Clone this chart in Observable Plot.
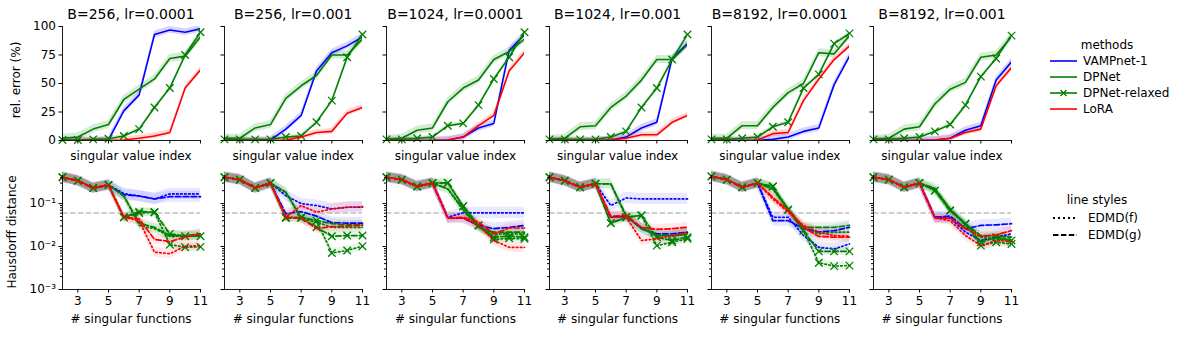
<!DOCTYPE html>
<html><head><meta charset="utf-8">
<script src="https://cdn.jsdelivr.net/npm/d3@7"></script>
<script src="https://cdn.jsdelivr.net/npm/@observablehq/plot@0.6"></script>
<style>
body{margin:0;background:#fff;font-family:"DejaVu Sans",sans-serif;}
#root{position:relative;width:1189px;height:351px;overflow:hidden;background:#fff;}
.t{position:absolute;transform:translate(-50%,-50%);white-space:nowrap;color:#000;font-family:"DejaVu Sans",sans-serif;}
</style></head><body><div id="root"></div>
<script>
// ---------------- data ----------------
const configs = ["B=256, lr=0.0001","B=256, lr=0.001","B=1024, lr=0.0001","B=1024, lr=0.001","B=8192, lr=0.0001","B=8192, lr=0.001"];
const methods = ["VAMPnet-1","DPNet","DPNet-relaxed","LoRA"];
const methodColors = ["#0000ff","#008000","#008000","#ff0000"];
const lineStyles = ["EDMD(f)","EDMD(g)"];
const xTop = [1,2,3,4,5,6,7,8,9,10];
const xTopTicks = [2,4,6,8,10];
const yTopTicks = [0,25,50,75,100];
const xBottom = [2,3,4,5,6,7,8,9,10,11];
const xBottomTicks = [3,5,7,9,11];
const yBottomTicks = [0.001,0.01,0.1];
const yBottomTickLabels = ["10\u207B\u00B3","10\u207B\u00B2","10\u207B\u00B9"];
const threshold = 0.06;

// relative error (%) per panel
const errVAMP = [
 [0,0,0,0.5,26,40,93,97,95,98],
 [0,0,0,0.5,10,22,61,77,83,91],
 [0,0,0,0,0.5,3,11,15,79,93],
 [0,0,0,0,0.5,3,11,16,72,85],
 [0,0,0,0,1,3,8,11,49,74],
 [0,0,0,0,0.5,2,9,13,53,69]];
const errDPNet = [
 [2,3,10,14,36,45,54,72,74,91],
 [2,2,11,14,37,48,57,75,75,89],
 [1,2,9,11,34,46,53,71,78,89],
 [1,2,12,13,29,39,53,71,71,84],
 [2,2,13,13,29,42,50,77,76,92],
 [1,2,10,12,32,45,51,73,75,91]];
const errRelaxed = [
 [0.5,0.5,1,1.5,4,10,29,46,75,95],
 [1,1,1,1,3,4,16,35,73,93],
 [1,1,2,3,13,15,31,54,73,95],
 [1,1,1,1,3,8,29,46,71,93],
 [1,1,2,3,12,16,46,58,85,94],
 [1,1,2,3,8,14,31,56,72,92]];
const errLoRA = [
 [0,0,0,0,0.5,2,4,7,46,62],
 [0,0,0,0,0.3,3,7,8,24,29],
 [0,0,0,0,0.5,3,13,22,61,77],
 [0,0,0,0,0.5,2,5,5,16,22],
 [0,0,0,0.5,6,7,35,54,71,83],
 [0,0,0,0,0.5,2,7,10,48,64]];
const errSpread = [3, 3.5, 1.5, 2.5];

// Hausdorff distance per panel
const hdVAMP_f = [
 [0.41,0.34,0.23,0.27,0.17,0.15,0.128,0.168,0.168,0.168],
 [0.41,0.36,0.23,0.30,0.153,0.10,0.09,0.075,0.082,0.082],
 [0.41,0.36,0.25,0.30,0.048,0.061,0.061,0.061,0.061,0.061],
 [0.41,0.34,0.24,0.29,0.09,0.135,0.128,0.128,0.128,0.128],
 [0.43,0.36,0.24,0.30,0.048,0.048,0.018,0.0096,0.0088,0.0115],
 [0.41,0.36,0.24,0.30,0.048,0.046,0.0216,0.0138,0.0165,0.0197]];
const hdVAMP_g = [
 [0.41,0.34,0.23,0.27,0.16,0.15,0.128,0.145,0.145,0.145],
 [0.41,0.36,0.23,0.30,0.058,0.065,0.051,0.036,0.035,0.035],
 [0.41,0.36,0.25,0.30,0.046,0.046,0.031,0.026,0.028,0.031],
 [0.41,0.34,0.24,0.29,0.048,0.051,0.026,0.0197,0.0197,0.0216],
 [0.43,0.36,0.24,0.30,0.040,0.040,0.026,0.0216,0.0235,0.028],
 [0.41,0.36,0.24,0.30,0.048,0.051,0.026,0.031,0.032,0.034]];
const hdDPNet_f = [
 [0.41,0.34,0.23,0.27,0.15,0.031,0.026,0.0174,0.0174,0.018],
 [0.41,0.36,0.23,0.30,0.184,0.044,0.037,0.028,0.028,0.028],
 [0.41,0.36,0.25,0.30,0.219,0.069,0.028,0.0197,0.0197,0.0197],
 [0.41,0.34,0.24,0.29,0.287,0.048,0.028,0.018,0.0174,0.0197],
 [0.43,0.36,0.24,0.30,0.219,0.072,0.026,0.0197,0.0216,0.0216],
 [0.41,0.36,0.24,0.30,0.219,0.072,0.031,0.0165,0.0151,0.0138]];
const hdDPNet_g = [
 [0.41,0.34,0.23,0.27,0.15,0.035,0.028,0.018,0.018,0.0197],
 [0.41,0.36,0.23,0.30,0.184,0.048,0.040,0.034,0.032,0.032],
 [0.41,0.36,0.25,0.30,0.219,0.075,0.028,0.0216,0.0216,0.0216],
 [0.41,0.34,0.24,0.29,0.287,0.053,0.026,0.018,0.018,0.0197],
 [0.43,0.36,0.24,0.30,0.219,0.075,0.028,0.028,0.028,0.031],
 [0.41,0.36,0.24,0.30,0.227,0.075,0.034,0.018,0.0174,0.0165]];
const hdRelaxed_f = [
 [0.41,0.34,0.23,0.27,0.048,0.06,0.063,0.0111,0.0096,0.0098],
 [0.41,0.36,0.23,0.30,0.048,0.048,0.040,0.0071,0.0081,0.0102],
 [0.41,0.36,0.25,0.30,0.303,0.087,0.031,0.0146,0.0156,0.0151],
 [0.41,0.34,0.24,0.29,0.035,0.048,0.053,0.0105,0.0126,0.0151],
 [0.43,0.36,0.24,0.30,0.25,0.072,0.0235,0.0042,0.0035,0.0036],
 [0.41,0.36,0.24,0.30,0.20,0.069,0.034,0.0105,0.0126,0.0115]];
const hdRelaxed_g = [
 [0.41,0.34,0.23,0.27,0.048,0.065,0.063,0.0197,0.0174,0.0174],
 [0.41,0.36,0.23,0.30,0.046,0.046,0.028,0.0174,0.018,0.018],
 [0.41,0.36,0.25,0.30,0.303,0.087,0.031,0.0165,0.0174,0.0165],
 [0.41,0.34,0.24,0.29,0.035,0.048,0.053,0.0165,0.0138,0.0165],
 [0.43,0.36,0.24,0.30,0.25,0.072,0.0235,0.0077,0.0077,0.0077],
 [0.41,0.36,0.24,0.30,0.20,0.069,0.034,0.0126,0.0165,0.0138]];
const hdLoRA_f = [
 [0.41,0.34,0.23,0.27,0.048,0.040,0.0074,0.0068,0.0102,0.0105],
 [0.41,0.36,0.23,0.30,0.048,0.09,0.063,0.075,0.082,0.085],
 [0.41,0.36,0.25,0.30,0.046,0.046,0.031,0.0138,0.0096,0.0096],
 [0.41,0.34,0.24,0.29,0.048,0.048,0.0138,0.0151,0.018,0.0216],
 [0.43,0.36,0.24,0.30,0.128,0.063,0.031,0.0216,0.018,0.0174],
 [0.41,0.36,0.24,0.30,0.046,0.040,0.018,0.0105,0.0138,0.0131]];
const hdLoRA_g = [
 [0.41,0.34,0.23,0.27,0.048,0.044,0.0146,0.0131,0.0165,0.0197],
 [0.41,0.36,0.23,0.30,0.048,0.046,0.026,0.029,0.030,0.031],
 [0.41,0.36,0.25,0.30,0.046,0.048,0.037,0.0197,0.027,0.027],
 [0.41,0.34,0.24,0.29,0.051,0.053,0.028,0.025,0.026,0.028],
 [0.43,0.36,0.24,0.30,0.14,0.069,0.028,0.0171,0.0165,0.0165],
 [0.41,0.36,0.24,0.30,0.046,0.046,0.026,0.0171,0.0187,0.0235]];
const hdBandFactor = [1.35, 1.3, 1.25, 1.3];

// ---------------- layout ----------------
const root = document.getElementById("root");
const PW = 138, PH = 114;
const ML = 45, MR = 12, MT = 8, MB = 24;
const TOP_Y = 26, BOT_Y = 175;
const panelLeft = i => 62 + 162.2 * i;
const errSeries = [errVAMP, errDPNet, errRelaxed, errLoRA];
const hdSeries = [[hdVAMP_f, hdVAMP_g],[hdDPNet_f, hdDPNet_g],[hdRelaxed_f, hdRelaxed_g],[hdLoRA_f, hdLoRA_g]];
const DOT = "1.5,2.5", DASH = "5.5,2.4";
const baseStyle = {background:"transparent", fontSize:"12px", fontFamily:"DejaVu Sans, sans-serif", color:"#000", overflow:"visible"};

function place(node, left, top){
  node.style.position = "absolute";
  node.style.left = left + "px";
  node.style.top = top + "px";
  root.appendChild(node);
}
function label(str, x, y, size, rotate){
  const d = document.createElement("div");
  d.className = "t";
  d.textContent = str;
  d.style.left = x + "px"; d.style.top = y + "px"; d.style.fontSize = size + "px";
  if (rotate) d.style.transform = "translate(-50%,-50%) rotate(-90deg)";
  root.appendChild(d);
}

function topPanel(p){
  const marks = [];
  methods.forEach((m, mi) => {
    const rows = errSeries[mi][p].map((v,k) => ({x: xTop[k], v, lo: v - errSpread[mi], hi: v + errSpread[mi]}));
    marks.push(Plot.areaY(rows, {x:"x", y1:"lo", y2:"hi", fill: methodColors[mi], fillOpacity: 0.16, clip: true}));
  });
  methods.forEach((m, mi) => {
    const rows = errSeries[mi][p].map((v,k) => ({x: xTop[k], v}));
    marks.push(Plot.lineY(rows, {x:"x", y:"v", stroke: methodColors[mi], strokeWidth: 1.6, clip: true}));
    if (m === "DPNet-relaxed") marks.push(Plot.dot(rows, {x:"x", y:"v", symbol:"times", r: 3.5, stroke: methodColors[mi], strokeWidth: 1.3}));
  });
  marks.push(Plot.ruleX([xTop[0]], {stroke:"#000", strokeWidth: 0.9}));
  marks.push(Plot.ruleY([0], {stroke:"#000", strokeWidth: 0.9}));
  marks.push(Plot.axisX({ticks: xTopTicks, tickSize: 3.5, tickFormat: () => "", label: null}));
  marks.push(Plot.axisY({ticks: yTopTicks, tickSize: 3.5, tickPadding: 3, tickFormat: p === 0 ? (d => String(d)) : (() => ""), label: null}));
  return Plot.plot({
    width: PW + ML + MR, height: PH + MT + MB,
    marginLeft: ML, marginRight: MR, marginTop: MT, marginBottom: MB,
    x: {domain: [xTop[0], xTop[xTop.length-1]]},
    y: {domain: [0, 100]},
    style: baseStyle,
    marks
  });
}

function bottomPanel(p){
  const marks = [];
  methods.forEach((m, mi) => {
    hdSeries[mi].forEach(arr => {
      const rows = arr[p].map((v,k) => ({x: xBottom[k], lo: v / hdBandFactor[mi], hi: v * hdBandFactor[mi]}));
      marks.push(Plot.areaY(rows, {x:"x", y1:"lo", y2:"hi", fill: methodColors[mi], fillOpacity: 0.09}));
    });
  });
  marks.push(Plot.ruleY([threshold], {stroke:"#c0c0c0", strokeWidth: 1.5, strokeDasharray: DASH}));
  methods.forEach((m, mi) => {
    hdSeries[mi].forEach((arr, si) => {
      const rows = arr[p].map((v,k) => ({x: xBottom[k], v}));
      marks.push(Plot.lineY(rows, {x:"x", y:"v", stroke: methodColors[mi], strokeWidth: 1.7, strokeDasharray: si === 0 ? DOT : DASH}));
      if (m === "DPNet-relaxed") marks.push(Plot.dot(rows, {x:"x", y:"v", symbol:"times", r: 3.5, stroke: methodColors[mi], strokeWidth: 1.3}));
    });
  });
  const minor = [];
  yBottomTicks.forEach(t => { for (let k = 2; k <= 9; k++) if (t*k <= 0.45) minor.push(t*k); });
  marks.push(Plot.ruleX([xBottom[0]], {stroke:"#000", strokeWidth: 0.9}));
  marks.push(Plot.ruleY([0.001], {stroke:"#000", strokeWidth: 0.9}));
  marks.push(Plot.axisX({ticks: xBottomTicks, tickSize: 3.5, tickPadding: 3, tickFormat: d => String(d), label: null}));
  marks.push(Plot.axisY({ticks: minor, tickSize: 2, tickFormat: () => "", label: null}));
  marks.push(Plot.axisY({ticks: yBottomTicks, tickSize: 3.5, tickPadding: 3,
    tickFormat: p === 0 ? (d => yBottomTickLabels[yBottomTicks.indexOf(d)]) : (() => ""), label: null}));
  return Plot.plot({
    width: PW + ML + MR, height: PH + MT + MB,
    marginLeft: ML, marginRight: MR, marginTop: MT, marginBottom: MB,
    x: {domain: [xBottom[0], xBottom[xBottom.length-1]]},
    y: {type: "log", domain: [0.001, 0.45]},
    style: baseStyle,
    marks
  });
}

configs.forEach((c, p) => {
  const L = panelLeft(p);
  place(topPanel(p), L - ML, TOP_Y - MT);
  place(bottomPanel(p), L - ML, BOT_Y - MT);
  label(c, L + PW/2, 14, 14);
  label("singular value index", L + PW/2, 156, 12);
  label("# singular functions", L + PW/2, 319, 12);
});
label("rel. error (%)", 16, 80, 12, true);
label("Hausdorff distance", 12, 232, 12, true);

// legend
const leg = d3.create("svg").attr("width", 150).attr("height", 240)
  .style("font-family", "DejaVu Sans, sans-serif").style("font-size", "12px");
leg.append("text").attr("x", 67).attr("y", 15).attr("text-anchor", "middle").attr("dominant-baseline", "central").text("methods");
methods.forEach((m, i) => {
  const y = 31 + 16 * i;
  leg.append("line").attr("x1", 10).attr("x2", 37).attr("y1", y).attr("y2", y).attr("stroke", methodColors[i]).attr("stroke-width", 1.6);
  if (m === "DPNet-relaxed") {
    leg.append("path").attr("d", `M${23.5-3},${y-3}L${23.5+3},${y+3}M${23.5-3},${y+3}L${23.5+3},${y-3}`).attr("stroke", methodColors[i]).attr("stroke-width", 1.3);
  }
  leg.append("text").attr("x", 43).attr("y", y).attr("dominant-baseline", "central").text(m);
});
leg.append("text").attr("x", 57).attr("y", 170).attr("text-anchor", "middle").attr("dominant-baseline", "central").text("line styles");
lineStyles.forEach((s, i) => {
  const y = 188 + 17 * i;
  leg.append("line").attr("x1", 13).attr("x2", 37).attr("y1", y).attr("y2", y).attr("stroke", "#000").attr("stroke-width", 2).attr("stroke-dasharray", i === 0 ? "2,3" : DASH);
  leg.append("text").attr("x", 48).attr("y", y).attr("dominant-baseline", "central").text(s);
});
place(leg.node(), 1040, 30);
</script></body></html>
